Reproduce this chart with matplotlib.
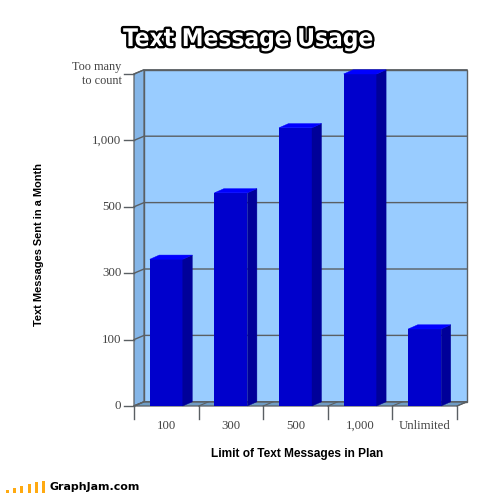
import matplotlib
matplotlib.use("Agg")
import matplotlib.pyplot as plt
import matplotlib.patheffects as pe
from matplotlib.patches import Polygon, Rectangle

categories = ["100", "300", "500", "1,000", "Unlimited"]
levels = ["0", "100", "300", "500", "1,000", "Too many\nto count"]
values = [2.21, 3.21, 4.19, 5.0, 1.16]
logo_heights = [3, 5, 7, 9, 11, 12]

W, H = 500, 493
fig = plt.figure(figsize=(W / 100, H / 100), dpi=100, facecolor="white")
L, R, T, B = 134, 457, 74, 406
ax = fig.add_axes([L / W, 1 - B / H, (R - L) / W, (B - T) / H])
ax.set_xlim(0, len(categories))
ax.set_ylim(0, len(levels) - 1)
ax.axis("off")

n = len(categories)
m = len(levels) - 1
dx = 10 / ((R - L) / n)
dy = 4.2 / ((B - T) / m)
GRID = "#5a5f63"
kw = dict(clip_on=False)

ax.add_patch(Rectangle((dx, dy), n, m, fc="#99ccff", ec=GRID, lw=1.0, zorder=1, **kw))
ax.add_patch(Polygon([(0, 0), (dx, dy), (dx, m + dy), (0, m)], fc="#85b6e8", ec=GRID, lw=0.9, zorder=1.5, **kw))
ax.add_patch(Polygon([(0, 0), (n, 0), (n + dx, dy), (dx, dy)], fc="#6f9cc4", ec=GRID, lw=0.9, zorder=1.5, **kw))

for i in range(m + 1):
    ax.plot([0, dx, n + dx], [i, i + dy, i + dy], color=GRID, lw=1.0, zorder=2, **kw)
    ax.plot([-0.16, 0], [i, i], color=GRID, lw=1.0, zorder=2, **kw)
    ax.text(-0.195, i, levels[i], ha="right", va="center", family="Liberation Serif",
            fontsize=8.8 if i == m else 9.4, color="#444444", linespacing=1.25, zorder=5)
for i in range(n + 1):
    ax.plot([i, i], [0, -0.19], color=GRID, lw=1.0, zorder=2, **kw)
    ax.plot([i, i + dx], [0, dy], color=GRID, lw=0.8, zorder=2, **kw)

bw = 33 / ((R - L) / n)
for i, v in enumerate(values):
    x0 = i + (1 - bw) / 2
    x1 = x0 + bw
    ax.bar(x0, v, width=bw, align="edge", color="#0000cc", lw=0, zorder=3, **kw)
    ax.add_patch(Polygon([(x1, 0), (x1 + dx * 0.95, dy), (x1 + dx * 0.95, v + dy), (x1, v)],
                         fc="#000099", ec="#000099", lw=0.3, zorder=3, **kw))
    ax.add_patch(Polygon([(x0, v), (x1, v), (x1 + dx * 0.95, v + dy), (x0 + dx * 0.95, v + dy)],
                         fc="#0000ff", ec="#0000ff", lw=0.3, zorder=3, **kw))
    ax.text(i + 0.5, -0.34, categories[i], ha="center", va="baseline", family="Liberation Serif",
            fontsize=9.2, color="#444444", zorder=5)

fig.text(297 / W, 1 - 454 / H, "Limit of Text Messages in Plan", ha="center", va="center",
         family="Liberation Sans", weight="bold", fontsize=8.6, color="black")
fig.text(39 / W, 1 - 245 / H, "Text Messages Sent in a Month", ha="center", va="center", rotation=90,
         family="Liberation Sans", weight="bold", fontsize=7.9, color="black")

t = fig.text(248 / W, 1 - 39 / H, "Text Message Usage", ha="center", va="center",
             family="DejaVu Sans", stretch="condensed", weight="bold", fontsize=17.5, color="white")
t.set_path_effects([pe.withStroke(linewidth=3.4, foreground="black")])

for i, h in enumerate(logo_heights):
    fig.patches.append(Rectangle(((6 + 7.2 * i) / W, 0), 3 / W, h / H, transform=fig.transFigure,
                                 fc="#ffaa11", ec="none", figure=fig))
fig.text(49 / W, 1 - 487 / H, "GraphJam.com", ha="left", va="center", family="DejaVu Sans",
         weight="bold", fontsize=7.9, color="black")

fig.savefig("out.png", dpi=100)
